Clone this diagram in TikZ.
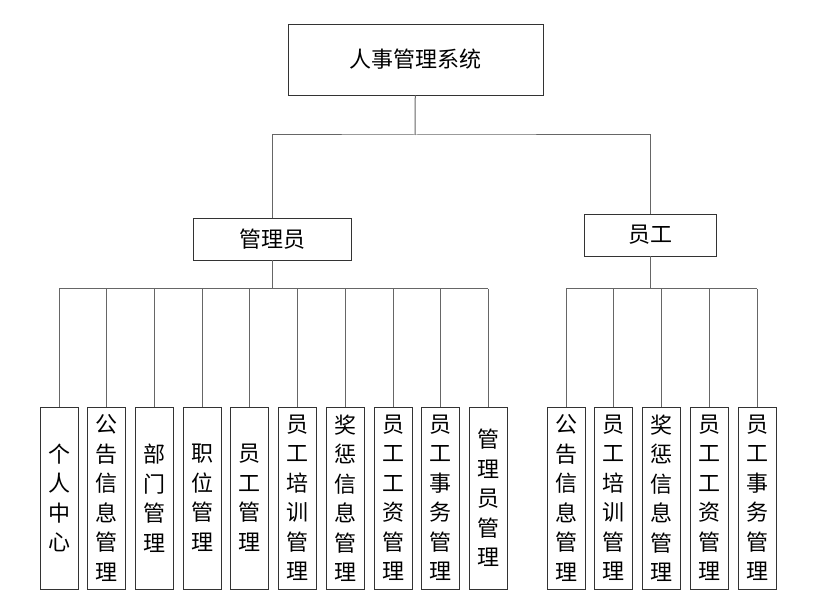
\documentclass[tikz,border=0pt]{standalone}
\usepackage{fontspec}
\newfontfamily\cjk{Noto Sans CJK SC}
\usetikzlibrary{positioning}

\begin{document}
\begin{tikzpicture}[x=1pt, y=-1pt,
    box/.style={draw=black!80, line width=0.9pt, inner sep=0pt,
      font=\cjk\fontsize{22}{29.5}\selectfont},
    leaf/.style={box, minimum width=38, minimum height=182, align=center},
    link/.style={draw=black!60, line width=1pt}]
  \useasboundingbox (0,0) rectangle (816,609);
  % top level
  \node [box, minimum width=255, minimum height=71] (root) at (415.5,59.5) {人事管理系统};
  \node [box, minimum width=158, minimum height=42] (admin) at (272,239) {管理员};
  \node [box, minimum width=132, minimum height=42] (staff) at (650,235) {员工};
  \coordinate (split) at (415,135);
  \draw [link] (root) -- (split);
  \draw [link] (admin.north) |- (split) -| (staff.north);
  % admin functions
  \coordinate (abus) at (272,289);
  \foreach \t [count=\i] in {{个\\人\\中\\心}, {公\\告\\信\\息\\管\\理}, {部\\门\\管\\理},
      {职\\位\\管\\理}, {员\\工\\管\\理}, {员\\工\\培\\训\\管\\理}, {奖\\惩\\信\\息\\管\\理},
      {员\\工\\工\\资\\管\\理}, {员\\工\\事\\务\\管\\理}, {管\\理\\员\\管\\理}} {
    \node [leaf] (a\i) at ({59+(\i-1)*47.72},498) {\t};
    \draw [link] (a\i.north) -- (a\i.north |- abus);
  }
  \draw [link] (admin) -- (abus);
  \draw [link] (a1.north |- abus) -- (a10.north |- abus);
  % staff functions
  \coordinate (sbus) at (650,289);
  \foreach \t [count=\i] in {{公\\告\\信\\息\\管\\理}, {员\\工\\培\\训\\管\\理},
      {奖\\惩\\信\\息\\管\\理}, {员\\工\\工\\资\\管\\理}, {员\\工\\事\\务\\管\\理}} {
    \node [leaf] (b\i) at ({566+(\i-1)*47.75},498) {\t};
    \draw [link] (b\i.north) -- (b\i.north |- sbus);
  }
  \draw [link] (staff) -- (sbus);
  \draw [link] (b1.north |- sbus) -- (b5.north |- sbus);
\end{tikzpicture}
\end{document}
